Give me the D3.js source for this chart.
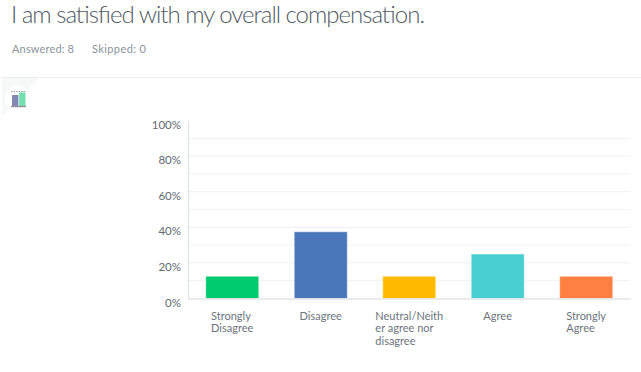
<!DOCTYPE html>
<html>
<head>
<meta charset="utf-8">
<script src="https://cdn.jsdelivr.net/npm/d3@7"></script>
<style>
  html, body { margin: 0; padding: 0; background: #fff; }
  svg { display: block; font-family: Lato, sans-serif; }
</style>
</head>
<body>
<svg id="chart" width="641" height="372"></svg>
<script>
var categories = ['Strongly Disagree', 'Disagree', 'Neutral/Neither agree nor disagree', 'Agree', 'Strongly Agree'];
var categoryLines = [
  ['Strongly', 'Disagree'],
  ['Disagree'],
  ['Neutral/Neith', 'er agree nor', 'disagree'],
  ['Agree'],
  ['Strongly', 'Agree']
];
var percents = [12.5, 37.5, 12.5, 25, 12.5];
var barColors = ['#00cc6f', '#4a76ba', '#ffbb00', '#48cfd1', '#ff8040'];
var yTicks = [0, 20, 40, 60, 80, 100];
var gridTicks = [10, 20, 30, 40, 50, 60, 70, 80, 90];
var iconCategories = ['a', 'b'];
var iconValues = [11, 13.5];
var iconColors = ['#8587b5', '#73e0b0'];

var svg = d3.select('#chart');

// header
svg.append('text')
  .attr('x', 11)
  .attr('y', 23)
  .attr('font-size', '24px')
  .attr('font-weight', 300)
  .attr('textLength', 414)
  .attr('fill', '#4f5a63')
  .text('I am satisfied with my overall compensation.');

svg.append('text')
  .attr('x', 12)
  .attr('y', 53)
  .attr('font-size', '11px')
  .attr('textLength', 62)
  .attr('fill', '#8a949b')
  .text('Answered: 8');

svg.append('text')
  .attr('x', 92)
  .attr('y', 53)
  .attr('font-size', '11px')
  .attr('textLength', 54)
  .attr('fill', '#8a949b')
  .text('Skipped: 0');

// divider and icon corner
svg.append('path')
  .attr('d', d3.line()([[2, 78], [40, 78], [2, 116]]) + 'Z')
  .attr('fill', '#f7f8f8');

svg.append('line')
  .attr('x1', 2)
  .attr('x2', 641)
  .attr('y1', 77.5)
  .attr('y2', 77.5)
  .attr('stroke', '#ebedee');

svg.append('circle')
  .attr('cx', 18)
  .attr('cy', 99)
  .attr('r', 13)
  .attr('fill', '#fff');

// small chart icon
var iconX = d3.scaleBand().domain(iconCategories).range([12, 25.5]).paddingInner(0.1);
var iconY = d3.scaleLinear().domain([0, 16]).range([106, 90]);

svg.selectAll('.icon-bar')
  .data(iconValues)
  .enter()
  .append('rect')
  .attr('class', 'icon-bar')
  .attr('x', function (d, i) { return iconX(iconCategories[i]); })
  .attr('y', function (d) { return iconY(d); })
  .attr('width', iconX.bandwidth())
  .attr('height', function (d) { return iconY(0) - iconY(d); })
  .attr('fill', function (d, i) { return iconColors[i]; });

svg.append('line')
  .attr('x1', 11)
  .attr('x2', 26)
  .attr('y1', 106.5)
  .attr('y2', 106.5)
  .attr('stroke', '#8f9499')
  .attr('stroke-width', 1.5);

svg.append('line')
  .attr('x1', 11)
  .attr('x2', 26)
  .attr('y1', 91.5)
  .attr('y2', 91.5)
  .attr('stroke', '#a0a4a8')
  .attr('stroke-dasharray', '1.5,1');

// scales
var xScale = d3.scaleBand()
  .domain(categories)
  .range([188, 630.5])
  .paddingInner(0.4)
  .paddingOuter(0.2);
var yScale = d3.scaleLinear().domain([0, 100]).range([298.5, 120.5]);

// gridlines
svg.selectAll('.grid')
  .data(gridTicks)
  .enter()
  .append('line')
  .attr('class', 'grid')
  .attr('x1', 188)
  .attr('x2', 630.5)
  .attr('y1', function (d) { return yScale(d); })
  .attr('y2', function (d) { return yScale(d); })
  .attr('stroke', '#f0f1f2');

// bars, with the faint pale edge they have in the reference
svg.selectAll('.bar')
  .data(percents)
  .enter()
  .append('rect')
  .attr('class', 'bar')
  .attr('x', function (d, i) { return xScale(categories[i]); })
  .attr('y', function (d) { return yScale(d); })
  .attr('width', xScale.bandwidth())
  .attr('height', function (d) { return yScale(0) - yScale(d); })
  .attr('fill', function (d, i) { return barColors[i]; })
  .attr('stroke', '#fff')
  .attr('stroke-opacity', 0.5);

// y axis
var yAxis = svg.append('g')
  .attr('transform', 'translate(188,0)')
  .call(d3.axisLeft(yScale)
    .tickValues(yTicks)
    .tickSize(0)
    .tickPadding(7)
    .tickFormat(function (d) { return d + '%'; }));
yAxis.select('.domain').attr('stroke', '#e3e5e6').attr('stroke-width', 1.5);
// labels sit a little below their gridline in the reference
yAxis.selectAll('.tick text')
  .attr('font-family', 'Lato, sans-serif')
  .attr('font-size', '11.5px')
  .attr('fill', '#5f6972')
  .attr('y', 4)
  .attr('dy', '0.32em');

// x axis
var xAxis = svg.append('g')
  .attr('transform', 'translate(0,298.5)')
  .call(d3.axisBottom(xScale).tickSize(0).tickFormat(''));
xAxis.select('.domain').attr('stroke', '#e3e5e6').attr('stroke-width', 1.5);

xAxis.selectAll('.tick text')
  .attr('font-family', 'Lato, sans-serif')
  .attr('font-size', '11px')
  .attr('fill', '#6b747c')
  .attr('text-anchor', 'start')
  .attr('y', 0)
  .attr('dy', 0)
  .each(function (d, i) {
    var label = d3.select(this);
    categoryLines[i].forEach(function (line, j) {
      label.append('tspan')
        .attr('x', 0)
        .attr('y', 21 + j * 12.5)
        .text(line);
    });
    // block of lines is centred on the band, the lines themselves are left aligned
    label.attr('x', 0).attr('transform', 'translate(' + (-this.getBBox().width / 2) + ',0)');
  });
</script>
</body>
</html>
